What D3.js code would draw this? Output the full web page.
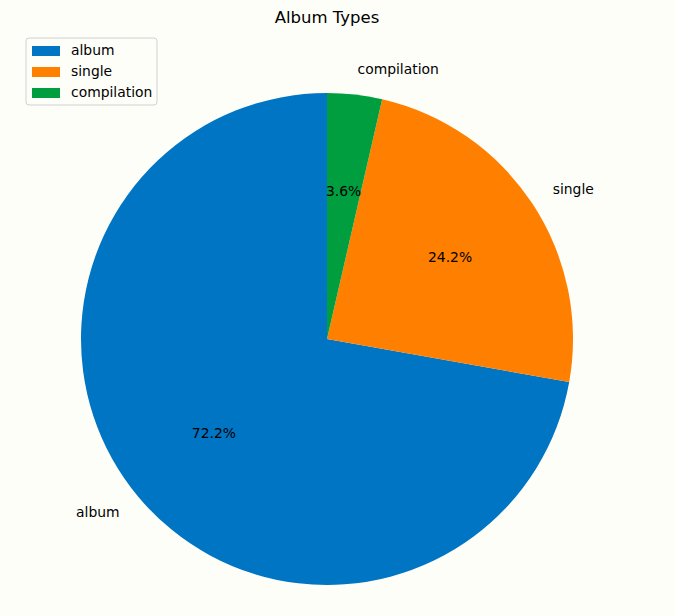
<!DOCTYPE html>
<html lang="en">
<head>
<meta charset="UTF-8">
<title>Album Types</title>
<script src="https://d3js.org/d3.v7.min.js"></script>
<style>
  html, body { margin: 0; padding: 0; background: #fefef9; }
  svg { display: block; font-family: "DejaVu Sans", sans-serif; }
</style>
</head>
<body>
<div id="chart"></div>
<script>
// data
const categories = ["album", "single", "compilation"];
const shares = [72.2, 24.2, 3.6];
const colors = ["#0075c4", "#ff7f00", "#009e3f"];

const width = 675, height = 616;
const cx = 327, cy = 339, radius = 246;

const svg = d3.select("#chart").append("svg")
    .attr("width", width)
    .attr("height", height);

svg.append("rect")
    .attr("width", width)
    .attr("height", height)
    .attr("fill", "#fefef9");

svg.append("text")
    .attr("x", cx)
    .attr("y", 18)
    .attr("text-anchor", "middle")
    .attr("dominant-baseline", "middle")
    .attr("font-size", 16.5)
    .text("Album Types");

const color = d3.scaleOrdinal().domain(categories).range(colors);

// matplotlib style: start at top, go counter-clockwise
const pie = d3.pie()
    .value(d => d.value)
    .sort(null)
    .startAngle(0)
    .endAngle(-2 * Math.PI);

const slices = pie(categories.map((c, i) => ({ name: c, value: shares[i] })));

const arc = d3.arc().innerRadius(0).outerRadius(radius);
const g = svg.append("g").attr("transform", `translate(${cx},${cy})`);

g.selectAll("path.slice")
    .data(slices)
    .enter()
    .append("path")
    .attr("class", "slice")
    .attr("d", arc)
    .attr("fill", d => color(d.data.name));

function pos(d, r) {
    const a = (d.startAngle + d.endAngle) / 2;
    return [r * Math.sin(a), -r * Math.cos(a)];
}

// category labels outside
g.selectAll("text.lbl")
    .data(slices)
    .enter()
    .append("text")
    .attr("class", "lbl")
    .attr("x", d => pos(d, radius * 1.1)[0])
    .attr("y", d => pos(d, radius * 1.1)[1])
    .attr("text-anchor", d => pos(d, 1)[0] > 0 ? "start" : "end")
    .attr("dominant-baseline", "middle")
    .attr("font-size", 13.9)
    .text(d => d.data.name);

// percentage labels inside
g.selectAll("text.pct")
    .data(slices)
    .enter()
    .append("text")
    .attr("class", "pct")
    .attr("x", d => pos(d, radius * 0.6)[0])
    .attr("y", d => pos(d, radius * 0.6)[1])
    .attr("text-anchor", "middle")
    .attr("dominant-baseline", "middle")
    .attr("font-size", 13.9)
    .text(d => d3.format(".1f")(d.data.value) + "%");

// legend
const legend = svg.append("g").attr("transform", "translate(26,38)");
legend.append("rect")
    .attr("width", 131)
    .attr("height", 67)
    .attr("rx", 3)
    .attr("fill", "#fefef9")
    .attr("fill-opacity", 0.8)
    .attr("stroke", "#d0d0d0");

const rows = legend.selectAll("g.row")
    .data(categories)
    .enter()
    .append("g")
    .attr("class", "row")
    .attr("transform", (d, i) => `translate(0,${8 + i * 21})`);

rows.append("rect")
    .attr("x", 6)
    .attr("y", 0)
    .attr("width", 28)
    .attr("height", 10)
    .attr("fill", d => color(d));

rows.append("text")
    .attr("x", 45)
    .attr("y", 5)
    .attr("dominant-baseline", "middle")
    .attr("font-size", 13.9)
    .text(d => d);
</script>
</body>
</html>
